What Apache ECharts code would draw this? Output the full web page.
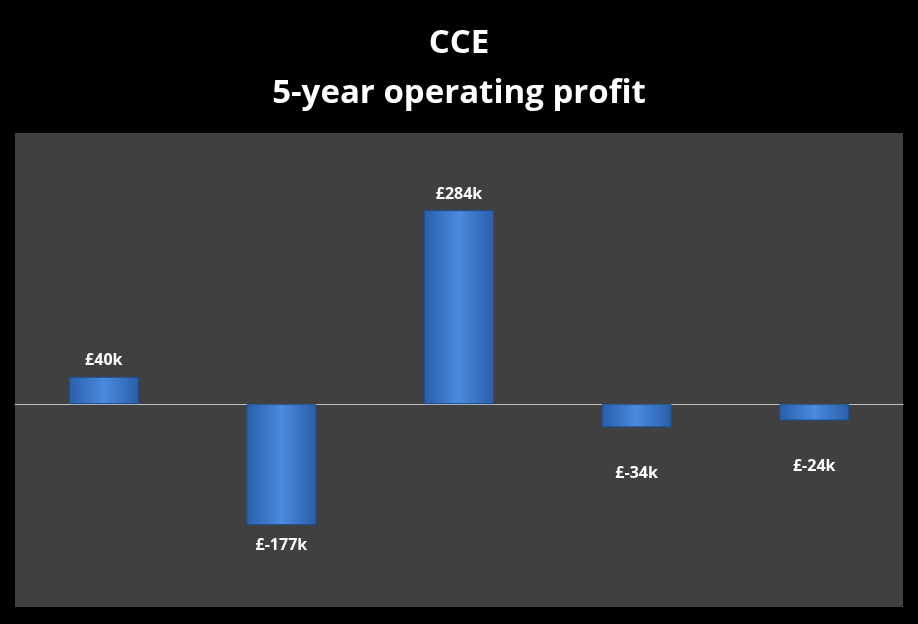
<!DOCTYPE html>
<html><head><meta charset="utf-8">
<script src="https://cdn.jsdelivr.net/npm/echarts@6/dist/echarts.min.js"></script>
<style>html,body{margin:0;background:#000}#c{width:918px;height:624px}</style>
</head><body><div id="c"></div>
<script>
const categories = ['2015','2016','2017','2018','2019'];
const profit = [40, -177, 284, -34, -24];
const chart = echarts.init(document.getElementById('c'));
const grad = new echarts.graphic.LinearGradient(0,0,1,0,[
  {offset:0,color:'#2a5ea8'},{offset:0.5,color:'#4a8ae0'},{offset:1,color:'#2a5ea8'}]);
chart.setOption({
  backgroundColor:'#000',
  title:{text:'CCE\n5-year operating profit',left:'center',top:14,
    textStyle:{color:'#fff',fontSize:33,fontWeight:'bold',fontFamily:'Open Sans',lineHeight:50}},
  grid:{left:15,right:15,top:133,bottom:17,show:true,backgroundColor:'#404040',borderWidth:0,
    containLabel:false,outerBoundsMode:'none'},
  xAxis:{type:'category',data:categories,axisTick:{show:false},
    axisLine:{onZero:true,lineStyle:{color:'#bfbfbf',width:1}},
    axisLabel:{color:'#fff',fontWeight:'bold',fontSize:16,fontFamily:'Open Sans',margin:20}},
  yAxis:{type:'value',min:-297,max:397,show:true,splitLine:{show:false},
    axisLine:{show:false},axisTick:{show:false},axisLabel:{show:false}},
  series:[{type:'bar',z:1,barWidth:70,
    data:profit.map(v=>({value:v,label:{position:v<0?'bottom':'top',distance:v<0?(v>-50?38:12):8}})),
    itemStyle:{color:grad,borderColor:'#1f4f90',borderWidth:1},
    label:{show:true,color:'#fff',fontWeight:'bold',fontSize:16,fontFamily:'Open Sans',
      formatter:p=>'£'+p.value+'k'}}]
});
</script></body></html>
